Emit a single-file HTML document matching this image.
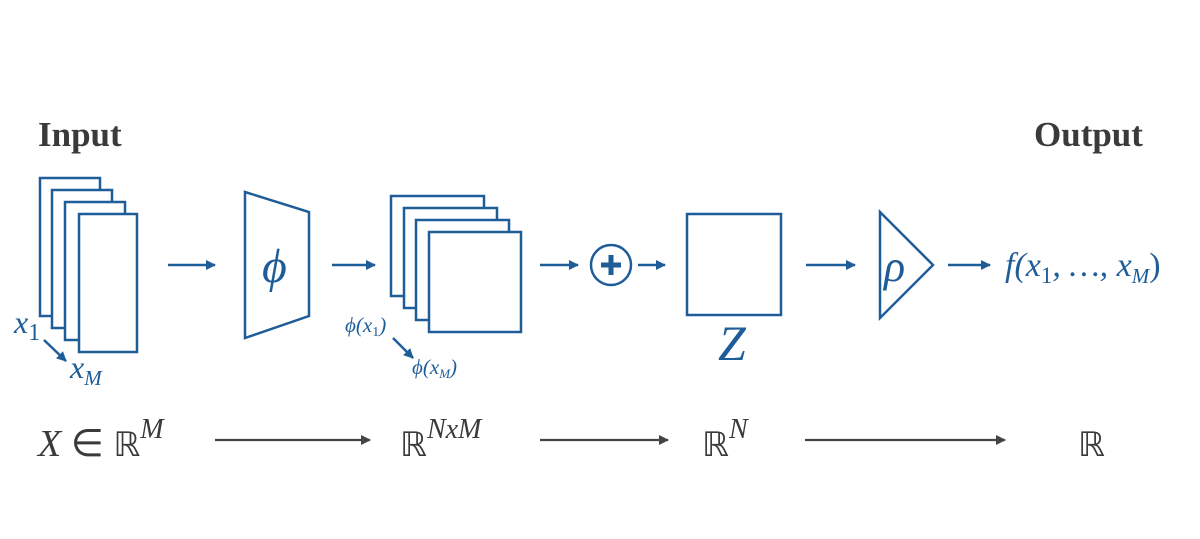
<!DOCTYPE html>
<html><head><meta charset="utf-8"><style>
html,body{margin:0;padding:0;background:#fff;}
svg{display:block}
</style></head><body>
<svg width="1200" height="539" viewBox="0 0 1200 539" xmlns="http://www.w3.org/2000/svg">
<defs>
<marker id="ab" markerWidth="10" markerHeight="10" refX="9" refY="5" orient="auto" markerUnits="userSpaceOnUse"><path d="M0,0 L10,5 L0,10 z" fill="#1f5d99"/></marker>
<marker id="ag" markerWidth="10" markerHeight="10" refX="9" refY="5" orient="auto" markerUnits="userSpaceOnUse"><path d="M0,0 L10,5 L0,10 z" fill="#444"/></marker>
</defs>
<g font-family="Liberation Serif, serif" font-weight="bold" font-size="35" fill="#3a3a3a">
<text x="38" y="146">Input</text>
<text x="1034" y="146">Output</text>
</g>
<g fill="#fff" stroke="#1f5d99" stroke-width="2.5">
<rect x="40" y="178" width="60" height="138"/>
<rect x="52" y="190" width="60" height="138"/>
<rect x="65" y="202" width="60" height="138"/>
<rect x="79" y="214" width="58" height="138"/>
<polygon points="245,192 309,212 309,316 245,338"/>
<rect x="391" y="196" width="93" height="100"/>
<rect x="404" y="208" width="93" height="100"/>
<rect x="416" y="220" width="93" height="100"/>
<rect x="429" y="232" width="92" height="100"/>
<circle cx="611" cy="265" r="20"/>
<rect x="687" y="214" width="94" height="101"/>
<polygon points="880,212 933,265 880,318"/>
</g>
<g stroke="#1f5d99" stroke-width="2.5">
<line x1="168" y1="265" x2="215" y2="265" marker-end="url(#ab)"/>
<line x1="332" y1="265" x2="375" y2="265" marker-end="url(#ab)"/>
<line x1="540" y1="265" x2="578" y2="265" marker-end="url(#ab)"/>
<line x1="638" y1="265" x2="665" y2="265" marker-end="url(#ab)"/>
<line x1="806" y1="265" x2="855" y2="265" marker-end="url(#ab)"/>
<line x1="948" y1="265" x2="990" y2="265" marker-end="url(#ab)"/>
<line x1="44" y1="340" x2="66" y2="361" marker-end="url(#ab)"/>
<line x1="393" y1="338" x2="413" y2="358" marker-end="url(#ab)"/>
<line x1="601" y1="265" x2="621" y2="265" stroke-width="5"/>
<line x1="611" y1="255" x2="611" y2="275" stroke-width="5"/>
</g>
<g font-family="Liberation Serif, serif" font-style="italic" fill="#1f5d99">
<text x="262" y="282" font-size="48">ϕ</text>
<text x="14" y="333" font-size="32">x<tspan font-style="normal" font-size="24" dy="7">1</tspan></text>
<text x="70" y="378" font-size="32">x<tspan font-size="21" dy="7">M</tspan></text>
<text x="345" y="332" font-size="21">ϕ(x<tspan font-style="normal" font-size="14" dy="4">1</tspan><tspan dy="-4">)</tspan></text>
<text x="412" y="374" font-size="21">ϕ(x<tspan font-size="13" dy="4">M</tspan><tspan dy="-4">)</tspan></text>
<text x="718" y="360" font-size="50">Z</text>
<text x="884" y="281" font-size="44">ρ</text>
<text x="1005" y="276" font-size="34">f(x<tspan font-style="normal" font-size="23" dy="7">1</tspan><tspan dy="-7">, …, x</tspan><tspan font-size="21" dy="7">M</tspan><tspan font-style="normal" dy="-7">)</tspan></text>
</g>
<g stroke="#444" stroke-width="2.2">
<line x1="215" y1="440" x2="370" y2="440" marker-end="url(#ag)"/>
<line x1="540" y1="440" x2="668" y2="440" marker-end="url(#ag)"/>
<line x1="805" y1="440" x2="1005" y2="440" marker-end="url(#ag)"/>
</g>
<g font-family="Liberation Serif, serif" fill="#3a3a3a" font-size="38">
<text x="38" y="456"><tspan font-style="italic">X</tspan> ∈ <tspan font-family="DejaVu Sans, sans-serif" font-size="34">ℝ</tspan><tspan font-style="italic" font-size="28" dy="-18">M</tspan></text>
<text x="400" y="456"><tspan font-family="DejaVu Sans, sans-serif" font-size="34">ℝ</tspan><tspan font-style="italic" font-size="28" dy="-18">NxM</tspan></text>
<text x="702" y="456"><tspan font-family="DejaVu Sans, sans-serif" font-size="34">ℝ</tspan><tspan font-style="italic" font-size="28" dy="-18">N</tspan></text>
<text x="1078" y="456"><tspan font-family="DejaVu Sans, sans-serif" font-size="34">ℝ</tspan></text>
</g>
</svg>
</body></html>
